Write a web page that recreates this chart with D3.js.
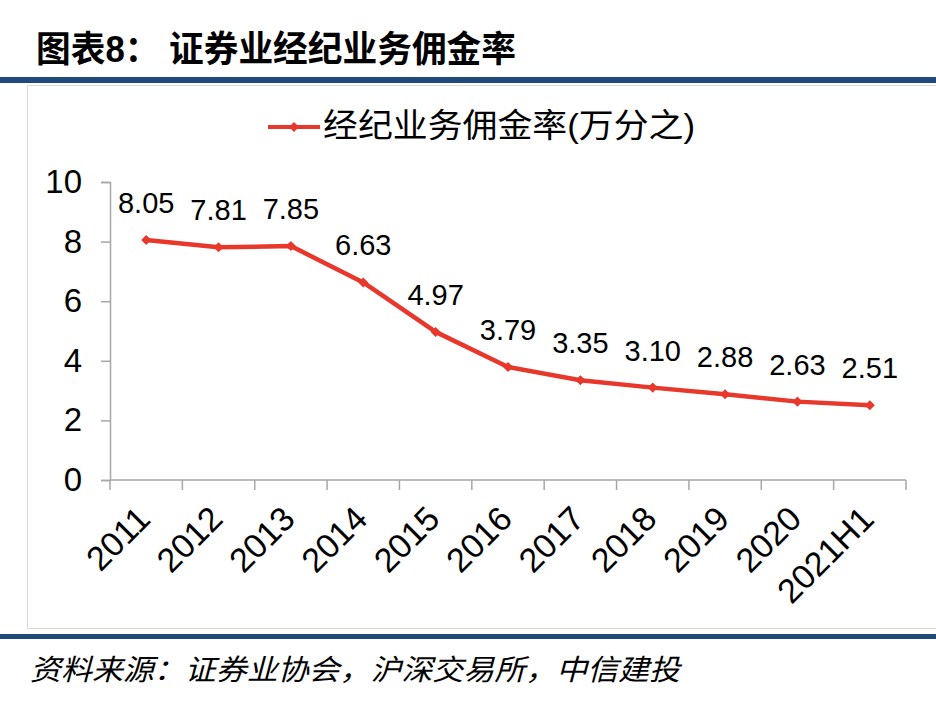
<!DOCTYPE html>
<html>
<head>
<meta charset="utf-8">
<script src="https://cdn.jsdelivr.net/npm/d3@7"></script>
<style>
  body { margin: 0; background: #fff; }
  text { font-family: "Liberation Sans", Arial, "Noto Sans CJK SC", sans-serif; }
</style>
</head>
<body>
<svg id="chart"></svg>
<script>
let years = ["2011", "2012", "2013", "2014", "2015", "2016", "2017", "2018", "2019", "2020", "2021H1"];
let rates = [8.05, 7.81, 7.85, 6.63, 4.97, 3.79, 3.35, 3.10, 2.88, 2.63, 2.51];
let yTicks = [0, 2, 4, 6, 8, 10];

let width = 936, height = 714;
let red = "#e8372b";
let cjk = "'Noto Sans CJK SC', sans-serif";

let svg = d3.select("#chart")
  .attr("width", width)
  .attr("height", height);

// header: title and blue rules
svg.append("text")
  .attr("x", 36)
  .attr("y", 62)
  .attr("font-family", cjk)
  .attr("font-weight", "bold")
  .attr("font-size", 36)
  .attr("textLength", 480)
  .attr("lengthAdjust", "spacingAndGlyphs")
  .attr("fill", "#000")
  .text("图表8：  证券业经纪业务佣金率");

svg.append("rect")
  .attr("x", 0).attr("y", 77)
  .attr("width", width).attr("height", 6)
  .attr("fill", "#1f4a7a");

svg.append("rect")
  .attr("x", 27.5).attr("y", 85.5)
  .attr("width", 920).attr("height", 543)
  .attr("fill", "none")
  .attr("stroke", "#d9d9d9");

svg.append("rect")
  .attr("x", 0).attr("y", 634)
  .attr("width", width).attr("height", 5)
  .attr("fill", "#1f4a7a");

svg.append("text")
  .attr("x", 30)
  .attr("y", 680)
  .attr("font-family", cjk)
  .attr("font-style", "italic")
  .attr("font-size", 29)
  .attr("textLength", 650)
  .attr("lengthAdjust", "spacingAndGlyphs")
  .attr("fill", "#000")
  .text("资料来源：证券业协会，沪深交易所，中信建投");

// scales
let x = d3.scaleBand()
  .domain(years)
  .range([110, 906]);

let y = d3.scaleLinear()
  .domain([0, 10])
  .range([480, 182]);

// y axis
let yAxis = svg.append("g")
  .attr("transform", "translate(110,0)")
  .call(d3.axisLeft(y).tickValues(yTicks).tickSize(9).tickPadding(19).tickFormat(d3.format("d")));
yAxis.select(".domain").attr("stroke", "#a6a6a6").attr("stroke-width", 1.5);
yAxis.selectAll(".tick line").attr("stroke", "#a6a6a6").attr("stroke-width", 1.5);
yAxis.selectAll(".tick text")
  .attr("font-size", 33)
  .attr("font-family", "'Liberation Sans', Arial, sans-serif")
  .attr("fill", "#000");

// x axis
let xAxis = svg.append("g")
  .attr("transform", "translate(0,480)")
  .call(d3.axisBottom(x).tickSize(0).tickFormat(""));
xAxis.select(".domain").attr("stroke", "#a6a6a6").attr("stroke-width", 1.5).attr("d", "M110,0H906");

svg.append("g")
  .selectAll("line")
  .data(years.concat(["end"]))
  .join("line")
    .attr("x1", (d, i) => i < years.length ? x(d) : x.range()[1])
    .attr("x2", (d, i) => i < years.length ? x(d) : x.range()[1])
    .attr("y1", 480)
    .attr("y2", 490)
    .attr("stroke", "#a6a6a6")
    .attr("stroke-width", 1.5);

svg.append("g")
  .selectAll("text")
  .data(years)
  .join("text")
    .attr("transform", d => `translate(${x(d) + x.bandwidth() / 2 + 6},521) rotate(-45)`)
    .attr("text-anchor", "end")
    .attr("font-size", 34)
    .attr("fill", "#000")
    .text(d => d);

// line + markers
let cx = d => x(d) + x.bandwidth() / 2;
let linegen = d3.line()
  .x((d, i) => cx(years[i]))
  .y(d => y(d));

svg.append("path")
  .attr("d", linegen(rates))
  .attr("fill", "none")
  .attr("stroke", red)
  .attr("stroke-width", 4.5)
  .attr("stroke-linejoin", "round");

let diamond = d3.symbol().type(d3.symbolDiamond2).size(64);

svg.append("g")
  .selectAll("path")
  .data(rates)
  .join("path")
    .attr("transform", (d, i) => `translate(${cx(years[i])},${y(d)})`)
    .attr("d", diamond)
    .attr("fill", red);

svg.append("g")
  .selectAll("text")
  .data(rates)
  .join("text")
    .attr("x", (d, i) => cx(years[i]))
    .attr("y", d => y(d) - 27)
    .attr("text-anchor", "middle")
    .attr("font-size", 29)
    .attr("fill", "#000")
    .text(d => d.toFixed(2));

// legend
let legend = svg.append("g");
legend.append("line")
  .attr("x1", 268).attr("x2", 320)
  .attr("y1", 127).attr("y2", 127)
  .attr("stroke", red).attr("stroke-width", 4);
legend.append("path")
  .attr("transform", "translate(294,127)")
  .attr("d", diamond)
  .attr("fill", red);
legend.append("text")
  .attr("x", 323)
  .attr("y", 137)
  .attr("font-family", cjk)
  .attr("font-size", 33)
  .attr("textLength", 372)
  .attr("lengthAdjust", "spacingAndGlyphs")
  .attr("fill", "#000")
  .text("经纪业务佣金率(万分之)");
</script>
</body>
</html>
